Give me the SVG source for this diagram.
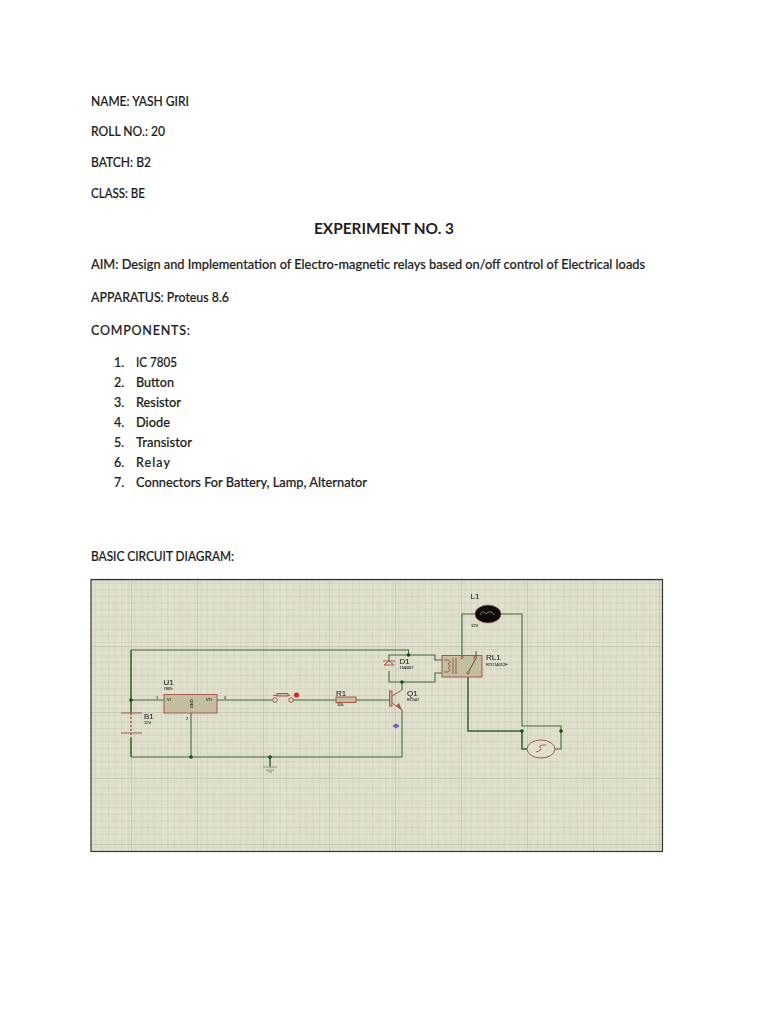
<svg xmlns="http://www.w3.org/2000/svg" width="768" height="1024" viewBox="0 0 768 1024">
<style>
.t{font-family:Lato,"Liberation Sans",sans-serif;font-size:12.5px;font-weight:500;fill:#1f1f1f;stroke:#1f1f1f;stroke-width:.2}
.h{font-size:15.5px;font-weight:700;stroke:none}
.w{fill:none;stroke:#3f6b3f;stroke-width:1.1}
.wt{fill:none;stroke:#2f622f;stroke-width:1.5}
.r{fill:none;stroke:#a5584c;stroke-width:1}
.b{fill:#c2bfa0;stroke:#a5584c;stroke-width:1}
.d{fill:#174d17}
.l{font-family:"Liberation Sans",sans-serif;font-size:8px;fill:#333;stroke:#333;stroke-width:.15}
.s{font-family:"Liberation Sans",sans-serif;font-size:4px;fill:#333;stroke:#333;stroke-width:.1}
</style>
<defs>
<pattern id="fine" width="6.6" height="6.6" patternUnits="userSpaceOnUse" x="2.4" y="2">
<path d="M0 0V6.6M0 0H6.6" fill="none" stroke="#c6c8b3" stroke-width=".8"/>
</pattern>
<pattern id="major" width="66" height="66" patternUnits="userSpaceOnUse" x="65" y="52">
<path d="M0 0V66M0 0H66" fill="none" stroke="#bfc1ad" stroke-width="1.400"/>
</pattern>
<filter id="soft" x="-5%" y="-5%" width="110%" height="110%"><feGaussianBlur stdDeviation=".35"/></filter>
</defs>
<rect width="768" height="1024" fill="#fff"/>
<g id="header">
<text class="t" x="91" y="106" textLength="98" lengthAdjust="spacingAndGlyphs">NAME: YASH GIRI</text>
<text class="t" x="91" y="136" textLength="74" lengthAdjust="spacingAndGlyphs">ROLL NO.: 20</text>
<text class="t" x="91" y="167" textLength="60" lengthAdjust="spacingAndGlyphs">BATCH: B2</text>
<text class="t" x="91" y="198" textLength="54" lengthAdjust="spacingAndGlyphs">CLASS: BE</text>
<text class="t h" x="314" y="234" textLength="140" lengthAdjust="spacingAndGlyphs">EXPERIMENT NO. 3</text>
<text class="t" x="91" y="269" textLength="554" lengthAdjust="spacingAndGlyphs">AIM: Design and Implementation of Electro-magnetic relays based on/off control of Electrical loads</text>
<text class="t" x="91" y="302" textLength="138" lengthAdjust="spacingAndGlyphs">APPARATUS: Proteus 8.6</text>
<text class="t" x="91" y="335" textLength="99" lengthAdjust="spacing">COMPONENTS:</text>
</g>
<g id="list">
<text class="t" x="114" y="367">1.</text><text class="t" x="136" y="367" textLength="41" lengthAdjust="spacingAndGlyphs">IC 7805</text>
<text class="t" x="114" y="387">2.</text><text class="t" x="136" y="387" textLength="38" lengthAdjust="spacingAndGlyphs">Button</text>
<text class="t" x="114" y="407">3.</text><text class="t" x="136" y="407" textLength="45" lengthAdjust="spacingAndGlyphs">Resistor</text>
<text class="t" x="114" y="427">4.</text><text class="t" x="136" y="427" textLength="34" lengthAdjust="spacingAndGlyphs">Diode</text>
<text class="t" x="114" y="447">5.</text><text class="t" x="136" y="447" textLength="56" lengthAdjust="spacingAndGlyphs">Transistor</text>
<text class="t" x="114" y="467">6.</text><text class="t" x="136" y="467" textLength="34" lengthAdjust="spacing">Relay</text>
<text class="t" x="114" y="487">7.</text><text class="t" x="136" y="487" textLength="231" lengthAdjust="spacingAndGlyphs">Connectors For Battery, Lamp, Alternator</text>
</g>
<text class="t" x="91" y="561" textLength="143" lengthAdjust="spacingAndGlyphs">BASIC CIRCUIT DIAGRAM:</text>
<rect x="91" y="579.500" width="571.500" height="272" fill="#e0e0cd"/>
<rect x="91" y="579.500" width="571.500" height="272" fill="url(#fine)"/>
<rect x="91" y="579.500" width="571.500" height="272" fill="url(#major)"/>
<g filter="url(#soft)">
<g id="connectors">
<path class="wt" d="M131 650V713M131 738V757"/>
<path class="w" d="M131 650H408.500V655"/>
<path class="w" d="M131 757H402V710"/>
<path class="w" d="M131 700H164M217 700H272M293 700H336M356 700H390"/>
<path class="w" d="M191 713V757"/>
<path class="wt" d="M270 757V767"/>
<path class="w" d="M389 661V655H435V660H442M389 671V682H435V673H442M402 682V690"/>
<path class="w" d="M462 657V614H475M501 614H522V726H561V749H555"/>
<path class="wt" d="M468 673V731H522V749H527"/>
<circle class="d" cx="131" cy="700" r="1.800"/><circle class="d" cx="191" cy="757" r="1.800"/>
<circle class="d" cx="270" cy="757" r="1.800"/><circle class="d" cx="408.500" cy="655" r="1.800"/>
<circle class="d" cx="402" cy="682" r="1.800"/><circle class="d" cx="522" cy="731" r="1.800"/>
<circle class="d" cx="561" cy="731" r="1.800"/>
</g>
<g id="B1">
<path class="r" d="M121 713H142M121 733H142"/>
<path d="M131 713V738" fill="none" stroke="#a5584c" stroke-width="1.400" stroke-dasharray="2 2"/>
<text class="l" x="144" y="719">B1</text><text class="s" x="144" y="723.500">12V</text>
</g>
<g id="U1">
<rect class="b" x="164" y="694.500" width="53" height="18.500"/>
<text class="l" x="163.500" y="685">U1</text><text class="s" x="163.500" y="690">7805</text>
<text class="s" x="167" y="701">VI</text><text class="s" x="206" y="701">VO</text>
<text class="s" transform="translate(192.500 708) rotate(-90)">GND</text><text class="s" x="156" y="699">1</text><text class="s" x="224" y="699">3</text><text class="s" x="186" y="720">2</text>
</g>
<g id="BTN">
<circle class="r" cx="275" cy="700" r="2.300"/><circle class="r" cx="291" cy="700" r="2.300"/>
<path class="r" d="M273 695.500H290"/><rect class="b" x="277" y="693.500" width="11" height="2.500"/>
<circle cx="296.500" cy="695" r="2.500" fill="#d8202a"/>
</g>
<g id="R1">
<rect class="b" x="336" y="697" width="20" height="5.500"/>
<text class="l" x="336" y="696">R1</text><text class="s" x="337" y="706">10k</text>
</g>
<g id="GND">
<path d="M263 767H277M266 770H274M268 772H272" fill="none" stroke="#8d9480" stroke-width="1.200"/>
</g>
<g id="D1">
<path class="r" d="M389 661L384 665H394ZM383 661H395"/>
<text class="l" x="399.500" y="664">D1</text><text class="s" x="399.500" y="669">1N4007</text>
</g>
<g id="Q1">
<rect class="b" x="389.500" y="691" width="2.500" height="15"/>
<path class="r" d="M392 696L402 690M392 703L402 710"/>
<path d="M396 706L402 710L399 703Z" fill="#a5584c"/>
<text class="l" x="407" y="696">Q1</text><text class="s" x="407" y="701">BC547</text>
<path d="M396 723.500L399.500 726L396 728.500L392.500 726Z" fill="#5a63c8"/>
</g>
<g id="RL1">
<rect class="b" x="442" y="655.500" width="40" height="21.500"/>
<path class="r" d="M444 660H448Q452 662 448 664Q452 666 448 668Q452 670 448 672H444M453 658V674M456 658V674"/>
<path d="M468 673L476 658V651" fill="none" stroke="#6b4a3c" stroke-width="1"/>
<circle class="b" cx="462" cy="657.500" r="1.200"/><circle class="b" cx="475" cy="657.500" r="1.200"/><circle class="b" cx="468" cy="673" r="1.200"/>
<text class="l" x="486" y="660">RL1</text><text class="s" x="486" y="665.500">RTD14012F</text>
</g>
<g id="L1">
<ellipse cx="488" cy="614" rx="13" ry="9" fill="#0a0a0a" stroke="#a5584c" stroke-width=".6"/>
<path d="M480 615Q483 609 486 614Q489 609 495 615" fill="none" stroke="#c9c9b5" stroke-width=".6"/>
<text class="l" x="470.500" y="599">L1</text><text class="s" x="471" y="627">12V</text>
</g>
<g id="ALT">
<ellipse cx="541" cy="749" rx="14" ry="9" fill="#e0e0cd" stroke="#a5584c" stroke-width="1"/>
<path class="r" d="M536 752Q543 750 540 747Q538 745 546 745"/>
</g>
</g>
<rect x="91" y="579.500" width="571.500" height="272" fill="none" stroke="#333" stroke-width="1.200"/>
</svg>
